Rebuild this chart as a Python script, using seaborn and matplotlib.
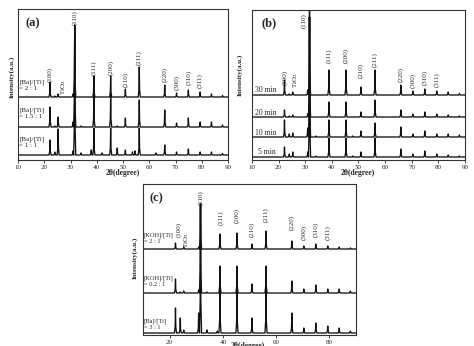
import matplotlib
matplotlib.use("Agg")
import matplotlib.pyplot as plt
import pandas as pd
import seaborn as sns

W, H, DPI = 474, 346, 100

# ---------------- data ----------------
MAIN_POS = [22.2, 31.6, 38.9, 45.3, 50.9, 56.2, 65.9, 70.4, 74.9, 79.4, 83.7, 87.9]
EXTRA_POS = [24.0, 25.3, 30.9, 34.0, 37.9, 42.0, 47.8, 53.6, 54.6, 62.5]
HKL = ["(100)", "(110)", "(111)", "(200)", "(210)", "(211)", "(220)", "(300)", "(310)", "(311)"]
TIO2 = "TiO$_2$"
X_TICKS_AB = [10, 20, 30, 40, 50, 60, 70, 80, 90]
X_TICKS_C = [20, 40, 60, 80]

# panel (a)
A_NAMES = ["[Ba]/[Ti]\n= 2 : 1", "[Ba]/[Ti]\n= 1.5 : 1", "[Ba]/[Ti]\n= 1 : 1"]
A_BASE = [63, 33, 5]
A_MAIN = [[15, 72, 21, 21, 8, 30, 12, 4, 7, 5, 3, 1.5],
          [20, 100, 32, 32, 9, 27, 17, 4, 9, 5, 5, 2],
          [15, 130, 27, 27, 5, 27, 10, 3, 6, 3, 3, 1.5]]
A_EXTRA = [[1, 3, 3, 0, 0, 0, 0, 0, 0, 0],
           [1, 10, 5, 1, 0, 0, 1, 0, 0, 0],
           [3, 26, 4, 2, 5, 2, 7, 3, 4, 2]]

# panel (b)
B_NAMES = ["30 min", "20 min", "10 min", "5 min"]
B_BASE = [65, 43, 23, 3]
B_MAIN = [[15, 85, 25, 25, 8, 25, 10, 4, 6, 4, 3, 1.5],
          [7, 100, 15, 15, 5, 17, 7, 3, 5, 3, 2, 1],
          [17, 120, 17, 17, 6, 14, 10, 3, 6, 3, 3, 2],
          [10, 140, 19, 19, 5, 19, 8, 3, 6, 3, 2, 1]]
B_EXTRA = [[1, 3, 5, 0, 0, 0, 0, 0, 0, 0],
           [1, 2, 3, 0, 0, 0, 0, 0, 0, 0],
           [3, 4, 9, 1, 0, 0, 1, 0, 0, 0],
           [3, 5, 5, 1, 0, 0, 1, 0, 0, 0]]

# panel (c)
C_NAMES = ["[KOH]/[Ti]\n= 2 : 1", "[KOH]/[Ti]\n= 0.2 : 1", "[Ba]/[Ti]\n= 3 : 1"]
C_BASE = [86, 42, 2]
C_MAIN = [[6, 45, 15, 16, 5, 18, 8, 3, 5, 3, 2, 1],
          [14, 89, 27, 27, 9, 27, 12, 4, 8, 4, 4, 2],
          [25, 129, 51, 51, 15, 51, 20, 5, 10, 7, 5, 2]]
C_EXTRA = [[0, 2, 2, 0, 0, 0, 0, 0, 0, 0],
           [1, 2, 3, 1, 0, 0, 0, 0, 0, 0],
           [15, 3, 20, 3, 2, 0, 0, 0, 0, 0]]

# ---------------- style ----------------
sns.set_style("ticks")
plt.rcParams["font.family"] = ["Liberation Serif", "DejaVu Serif"]
plt.rcParams["mathtext.fontset"] = "stix"

fig = plt.figure(figsize=(W / DPI, H / DPI), dpi=DPI)


def add_ax(l, t, r, b):
    return fig.add_axes([l / W, 1 - b / H, (r - l) / W, (b - t) / H])


def ftext(px, py, s, **kw):
    fig.text(px / W, 1 - py / H, s, **kw)


def profile_frame(names, bases, mains, extras, hw=0.4):
    rows = []
    for name, base, main, extra in zip(names, bases, mains, extras):
        peaks = sorted(zip(MAIN_POS + EXTRA_POS, main + extra))
        pts = [(10.0, base)]
        for p, h in peaks:
            if h <= 0:
                continue
            pts += [(p - hw, base), (p - hw * 0.3, base + h * 0.25), (p, base + h),
                    (p + hw * 0.3, base + h * 0.25), (p + hw, base)]
        pts.append((90.0, base))
        for i, (x, y) in enumerate(pts):
            rows.append({"trace": name, "i": i, "two_theta": x, "intensity": y})
    return pd.DataFrame(rows)


def draw_panel(box, names, bases, mains, extras, ticks):
    l, t, r, b = box
    ax = add_ax(l, t, r, b)
    df = profile_frame(names, bases, mains, extras)
    sns.lineplot(data=df, x="two_theta", y="intensity", units="trace",
                 estimator=None, sort=False, color="#111111", lw=0.95,
                 legend=False, ax=ax)
    ax.set_xlim(10, 90)
    ax.set_ylim(0, b - t)
    ax.set_xticks(ticks)
    ax.set_xticklabels([str(v) for v in ticks], fontsize=5)
    ax.set_yticks([])
    ax.set_xlabel("")
    ax.set_ylabel("")
    ax.tick_params(axis="x", length=2, width=0.6, pad=1.5)
    for s in ax.spines.values():
        s.set_linewidth(0.8)
        s.set_color("#333333")
    return ax


def peak_labels(ax, bottom, xs, pys, tio2_x, tio2_py):
    for hkl, x, py in zip(HKL, xs, pys):
        ax.text(x, bottom - py, hkl, rotation=90, ha="center", va="bottom",
                fontsize=5)
    ax.text(tio2_x, bottom - tio2_py, TIO2, rotation=90, ha="center",
            va="bottom", fontsize=5)


# ----- (a)
axa = draw_panel((18, 9, 228, 160), A_NAMES, A_BASE, A_MAIN, A_EXTRA, X_TICKS_AB)
peak_labels(axa, 160, [22.2, 31.6, 38.9, 45.3, 50.9, 56.2, 65.9, 70.4, 74.9, 79.4],
            [82, 25, 75, 75, 87, 65, 82, 90, 85, 88], 27.3, 95)
ftext(25, 23, "(a)", fontsize=9, fontweight="bold", ha="left", va="center")
for s, py in zip(A_NAMES, [85, 113, 142]):
    ftext(19, py, s, fontsize=5, ha="left", va="center", linespacing=1.3)
ftext(12, 77, "Intensity(a.u.)", rotation=90, fontsize=5, fontweight="bold",
      ha="center", va="center")
ftext(123, 173, "2θ(degree)", fontsize=5.5, fontweight="bold", ha="center", va="center")

# ----- (b)
axb = draw_panel((252, 10, 465, 160), B_NAMES, B_BASE, B_MAIN, B_EXTRA, X_TICKS_AB)
peak_labels(axb, 160, [22.2, 29.6, 38.9, 45.3, 50.9, 56.2, 65.9, 70.4, 74.9, 79.4],
            [85, 28, 63, 63, 78, 67, 82, 88, 85, 87], 26.5, 88)
ftext(262, 23, "(b)", fontsize=9, fontweight="bold", ha="left", va="center")
for s, px, py in zip(B_NAMES, [255, 255, 255, 258], [90, 113, 133, 152]):
    ftext(px, py, s, fontsize=5.5, ha="left", va="center")
ftext(240, 75, "Intensity(a.u.)", rotation=90, fontsize=5, fontweight="bold",
      ha="center", va="center")
ftext(358, 173, "2θ(degree)", fontsize=5.5, fontweight="bold", ha="center", va="center")

# ----- (c)
axc = draw_panel((143, 184, 356, 335), C_NAMES, C_BASE, C_MAIN, C_EXTRA, X_TICKS_C)
peak_labels(axc, 335, [23.4, 31.8, 39.2, 45.3, 50.9, 56.2, 65.9, 70.4, 74.9, 79.4],
            [237, 205, 225, 223, 237, 222, 230, 240, 237, 240], 26.2, 248)
ftext(150, 198, "(c)", fontsize=9, fontweight="bold", ha="left", va="center")
for s, py in zip(C_NAMES, [238, 281, 324]):
    ftext(144, py, s, fontsize=4.6, ha="left", va="center", linespacing=1.3)
ftext(135, 258, "Intensity(a.u.)", rotation=90, fontsize=5, fontweight="bold",
      ha="center", va="center")
ftext(248, 346, "2θ(degree)", fontsize=5.5, fontweight="bold", ha="center", va="center")

fig.savefig("out.png", dpi=DPI, facecolor="white")
